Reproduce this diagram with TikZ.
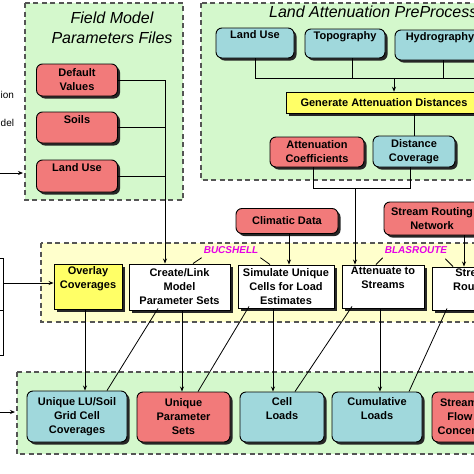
\documentclass[tikz,border=0pt]{standalone}
\usepackage{fontspec}
\setmainfont{Liberation Sans}
\usetikzlibrary{arrows.meta,shadows}
\definecolor{redfill}{RGB}{242,122,122}
\definecolor{cyanfill}{RGB}{160,216,220}
\definecolor{greenbg}{RGB}{212,248,204}
\definecolor{yellowbg}{RGB}{255,255,204}
\definecolor{yellowbox}{RGB}{255,255,102}
\definecolor{labelmag}{RGB}{230,0,230}
\definecolor{panelline}{RGB}{85,85,85}
\tikzset{
  base/.style={font=\bfseries\fontsize{11}{14}\selectfont, align=center, inner sep=0pt,
    draw=black, line width=0.9pt,
    drop shadow={shadow xshift=2.5pt, shadow yshift=-2.5pt, fill=black!85, opacity=1}},
  databox/.style={base, rounded corners=6pt},
  redbox/.style={databox, fill=redfill},
  cyanbox/.style={databox, fill=cyanfill},
  procbox/.style={base, fill=white},
  ylwbox/.style={base, fill=yellowbox},
  panel/.style={draw=panelline, line width=1.1pt, dash pattern=on 5pt off 3.5pt},
  ptitle/.style={font=\itshape\fontsize{16}{20}\selectfont, align=center, inner sep=0pt},
  plabel/.style={font=\bfseries\itshape\fontsize{10}{12}\selectfont, text=labelmag, inner sep=0pt},
  conn/.style={line width=0.8pt, draw=black},
  arr/.style={conn, -{Stealth[length=5pt,width=4pt]}},
  sidetext/.style={font=\fontsize{10}{12}\selectfont, inner sep=0pt}
}
\begin{document}
\begin{tikzpicture}[x=1pt,y=-1pt]
\clip (0,0) rectangle (474,474);
\fill[white] (0,0) rectangle (474,474);

% panels
\draw[panel, fill=greenbg] (25,3) rectangle (183,200);
\draw[panel, fill=greenbg] (201,3) rectangle (490,180);
\draw[panel, fill=yellowbg] (41,243) rectangle (490,322);
\draw[panel, fill=greenbg] (17,372) rectangle (490,454);

% titles
\node[ptitle] (t1) at (112,28) {Field Model\\Parameters Files};
\node[ptitle, anchor=west] (t2) at (269,13) {Land Attenuation PreProcessing};

% side texts
\node[sidetext, anchor=west] (s1) at (0.5,95) {ion};
\node[sidetext, anchor=west] (s2) at (0.5,123) {del};

% field model boxes
\node[redbox, minimum width=81pt, minimum height=32pt] (dv) at (77,80) {Default\\Values};
\node[redbox, minimum width=81pt, minimum height=31pt] (soils) at (77,127.5) {Soils\\[-2pt]\strut};
\node[redbox, minimum width=81pt, minimum height=32pt] (lu1) at (77,176) {Land Use\\[-2pt]\strut};

% land attenuation boxes
\node[cyanbox, minimum width=78pt, minimum height=30pt] (lu2) at (255,43) {Land Use\\[-2pt]\strut};
\node[cyanbox, minimum width=80pt, minimum height=29pt] (topo) at (345,43.5) {Topography\\[-2pt]\strut};
\node[cyanbox, minimum width=90pt, minimum height=30pt] (hydro) at (440,45) {Hydrography\\[-2pt]\strut};
\node[base, fill=yellowbox, line width=0.5pt, minimum width=196pt, minimum height=21pt] (gen) at (384,102.5) {Generate Attenuation Distances};
\node[redbox, minimum width=94pt, minimum height=30pt] (ac) at (317,152) {Attenuation\\Coefficients};
\node[cyanbox, minimum width=82pt, minimum height=31pt] (dc) at (414,151.5) {Distance\\Coverage};

% external inputs
\node[redbox, minimum width=102pt, minimum height=25pt] (clim) at (287,221) {Climatic Data};
\node[redbox, minimum width=96pt, minimum height=33pt] (srn) at (432,218.5) {Stream Routing\\Network};

% middle processes
\node[ylwbox, minimum width=68pt, minimum height=45pt] (ov) at (88,286.5) {Overlay\\Coverages\\[-1pt]\strut};
\node[procbox, minimum width=101pt, minimum height=46pt] (cl) at (179.5,287) {Create/Link\\Model\\Parameter Sets};
\node[procbox, minimum width=96pt, minimum height=43pt] (sim) at (286,286.5) {Simulate Unique\\Cells for Load\\Estimates};
\node[procbox, minimum width=82pt, minimum height=43pt] (att) at (383,286.5) {Attenuate to\\Streams\\[-1pt]\strut};
\node[procbox, minimum width=84pt, minimum height=43pt] (sr) at (474,288.5) {Stream\\Routing\\[-1pt]\strut};

% labels
\node[plabel] (bucs) at (231,250) {BUCSHELL};
\node[plabel] (blas) at (416,250) {BLASROUTE};

% outputs
\node[cyanbox, minimum width=100pt, minimum height=51pt] (ulu) at (77,416.5) {Unique LU/Soil\\Grid Cell\\Coverages};
\node[redbox, minimum width=93pt, minimum height=50pt] (ups) at (183.5,417) {Unique\\Parameter\\Sets};
\node[cyanbox, minimum width=84pt, minimum height=50pt] (cel) at (282,417) {Cell\\Loads\\[-1pt]\strut};
\node[cyanbox, minimum width=90pt, minimum height=50pt] (cum) at (377,417) {Cumulative\\Loads\\[-1pt]\strut};
\node[redbox, minimum width=92pt, minimum height=50pt] (sfc) at (478,417) {Stream Loads,\\Flow Rates,\\Concentrations};

% left-edge coordinates
\coordinate (inA) at (-2,173);
\coordinate (fmleft) at (23,173);
\coordinate (tabNW) at (-5,258);
\coordinate (tabNE) at (3,258);
\coordinate (tabME) at (3,310);
\coordinate (tabMW) at (-5,310);
\coordinate (tabSE) at (3,355);
\coordinate (tabSW) at (-5,355);
\coordinate (tabOut) at (3,283);
\coordinate (inC) at (-2,412);
\coordinate (botleft) at (15,412);

\draw[conn] (tabNW) -- (tabNE) -- (tabSE) -- (tabSW);
\draw[conn] (tabMW) -- (tabME);
\draw[arr] (inA) -- (fmleft);
\draw[arr] (tabOut) -- (tabOut -| ov.west);
\draw[arr] (inC) -- (botleft);

% field model connectors
\coordinate (fmx) at (165,0);
\draw[conn] (dv.east) -- (dv.east -| fmx);
\draw[conn] (soils.east) -- (soils.east -| fmx);
\draw[conn] (lu1.east) -- (lu1.east -| fmx);
\draw[arr] (dv.east -| fmx) -- (cl.north -| fmx);

% land attenuation connectors
\coordinate (bus) at (0,78);
\coordinate (busR) at (480,78);
\draw[conn] (lu2.south) -- (lu2.south |- bus);
\draw[conn] ([xshift=7pt]topo.south) -- ([xshift=7pt]topo.south |- bus);
\draw[conn] ([xshift=3pt]hydro.south) -- ([xshift=3pt]hydro.south |- bus);
\draw[conn] (lu2.south |- bus) -- (busR);
\draw[arr] ([xshift=10pt]gen.north |- bus) -- ([xshift=10pt]gen.north);
\draw[conn] ([xshift=30pt]gen.south) -- ([xshift=30pt]gen.south |- dc.north);
\coordinate (lowbus) at (0,188);
\draw[conn] ([xshift=-4pt]ac.south) -- ([xshift=-4pt]ac.south |- lowbus) -- ([xshift=-4pt]dc.south |- lowbus) -- ([xshift=-4pt]dc.south);
\draw[arr] ([xshift=-28pt]att.north |- lowbus) -- ([xshift=-28pt]att.north);

% external inputs
\draw[arr] ([xshift=2pt]clim.south) -- ([xshift=2pt]clim.south |- sim.north);
\draw[arr] ([xshift=32pt]srn.south) -- ([xshift=32pt]srn.south |- sr.north);

% label leaders
\draw[conn] ([xshift=-2pt,yshift=-4pt]bucs.south west) -- ([xshift=13.5pt]cl.north);
\draw[conn] ([xshift=2pt,yshift=-4pt]bucs.south east) -- ([xshift=-16pt]sim.north);
\draw[conn] ([xshift=-2pt,yshift=-4pt]blas.south west) -- ([xshift=-7pt]att.north);
\draw[conn] ([xshift=-2pt,yshift=-5pt]blas.south east) -- ([xshift=-21pt]sr.north);

% middle to bottom
\draw[arr] ([xshift=-3pt]ov.south) -- ([xshift=-3pt]ov.south |- ulu.north);
\draw[conn] ([xshift=-21.5pt,yshift=2pt]cl.south) -- ([xshift=30pt]ulu.north);
\draw[arr] ([xshift=2.5pt]cl.south) -- ([xshift=2.5pt]cl.south |- ups.north);
\draw[conn] ([xshift=-37pt,yshift=2pt]sim.south) -- ([xshift=14.5pt]ups.north);
\draw[arr] ([xshift=-13pt]sim.south) -- ([xshift=-13pt]sim.south |- cel.north);
\draw[conn] ([xshift=-31pt,yshift=2pt]att.south) -- ([xshift=13pt]cel.north);
\draw[arr] ([xshift=-3pt]att.south) -- ([xshift=-3pt]att.south |- cum.north);
\draw[conn] ([xshift=-27pt,yshift=2pt]sr.south) -- ([xshift=32pt]cum.north);
\end{tikzpicture}
\end{document}
